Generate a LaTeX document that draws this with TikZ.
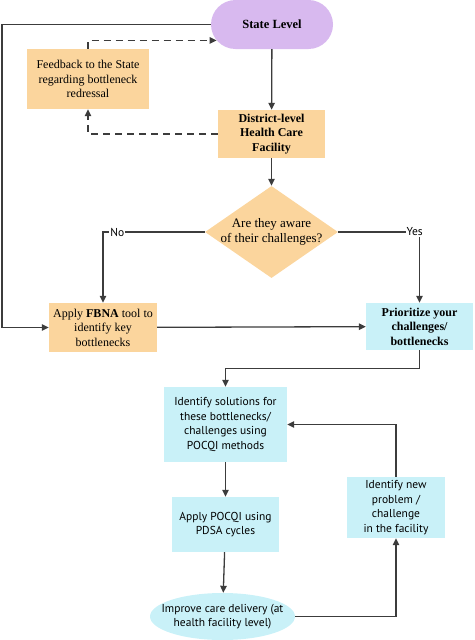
\documentclass[tikz,border=0pt]{standalone}
\usepackage{fontspec}
\setmainfont{Liberation Serif}
\newfontfamily\ptsans{PT Sans}
\usepackage{tikz}
\usetikzlibrary{shapes.geometric}
\usetikzlibrary{shapes.misc}
\usetikzlibrary{arrows.meta}
\definecolor{stateviolet}{HTML}{D8B9EF}
\definecolor{boxorange}{HTML}{FBD59D}
\definecolor{boxcyan}{HTML}{C9F1F8}
\definecolor{linegray}{HTML}{3C3C3C}

\begin{document}
\begin{tikzpicture}[x=1pt,y=-1pt,
	box/.style={rectangle,inner sep=0pt,align=center},
	orangebox/.style={box,fill=boxorange,font=\fontsize{12}{14.5}\selectfont},
	cyanbox/.style={box,fill=boxcyan,font=\ptsans\fontsize{11.5}{14.5}\selectfont},
	flow/.style={draw=linegray,line width=1.3pt,-{Triangle[length=7pt,width=6.5pt]}},
	backflow/.style={flow,dash pattern=on 7pt off 5pt},
	answer/.style={fill=white,inner sep=1pt,font=\ptsans\fontsize{11.5}{13}\selectfont}]
	\useasboundingbox (0,0) rectangle (474,640);
	
	% top part: state and district
	\node[rounded rectangle,fill=stateviolet,minimum width=122pt,minimum height=49pt,inner sep=0pt,font=\bfseries\fontsize{12.5}{14}\selectfont] (state) at (272,24.5) {State Level};
	\node[orangebox,minimum width=122pt,minimum height=60pt] (feedback) at (88,79) {Feedback to the State\\regarding bottleneck\\redressal};
	\node[orangebox,minimum width=107pt,minimum height=48pt,font=\bfseries\fontsize{12}{14.3}\selectfont] (district) at (271.5,134) {District-level\\Health Care\\Facility};
	
	% decision
	\node[diamond,fill=boxorange,inner sep=0pt,minimum width=133pt,minimum height=92pt] (aware) at (271.5,232) {};
	\node[align=center,inner sep=0pt,font=\fontsize{13}{15.5}\selectfont] (awaretext) at (aware.center) {Are they aware\\of their challenges?};
	
	% middle row
	\node[orangebox,minimum width=108pt,minimum height=49pt] (fbna) at (103,327.5) {Apply \textbf{FBNA} tool to\\identify key\\bottlenecks};
	\node[box,fill=boxcyan,minimum width=107pt,minimum height=47pt,font=\bfseries\fontsize{12}{14.5}\selectfont] (prioritize) at (419.5,326.5) {Prioritize your\\challenges/\\bottlenecks};
	
	% POCQI loop
	\node[cyanbox,minimum width=123pt,minimum height=75pt] (solutions) at (225.5,424.5) {Identify solutions for\\these bottlenecks/\\challenges using\\POCQI methods};
	\node[cyanbox,minimum width=107pt,minimum height=55pt] (pdsa) at (225.5,524.5) {Apply POCQI using\\PDSA cycles};
	\node[ellipse,fill=boxcyan,inner sep=0pt,minimum width=145pt,minimum height=47pt] (improve) at (222.5,616.5) {};
	\node[align=center,inner sep=0pt,font=\ptsans\fontsize{11.5}{14.5}\selectfont] (improvetext) at (improve.center) {Improve care delivery (at\\health facility level)};
	\node[cyanbox,minimum width=98pt,minimum height=61pt] (newproblem) at (396,507.5) {Identify new\\problem /\\challenge\\in the facility};
	
	\coordinate (leftrail) at (2,24.5);
	
	% connectors
	\draw[flow] (state) -- (district);
	\draw[flow] (district) -- (aware);
	\draw[backflow] (district.west) -| (feedback.south);
	\draw[backflow] (feedback.north) |- (state.196);
	\draw[flow] (state.west) -- (leftrail) |- (fbna.west);
	\draw[flow] (aware.west) -| node[answer,pos=0.43] {No} (fbna.north);
	\draw[flow] (aware.east) -| node[answer,pos=0.47] {Yes} (prioritize.north);
	\draw[flow] (fbna) -- (prioritize);
	\draw[flow] (prioritize.south) -- ++(0,18) -| (solutions.north);
	\draw[flow] (solutions) -- (pdsa);
	\draw[flow] (pdsa) -- (improve);
	\draw[flow] (improve.east) -| (newproblem.south);
	\draw[flow] (newproblem.north) |- (solutions.east);
	
\end{tikzpicture}
\end{document}
